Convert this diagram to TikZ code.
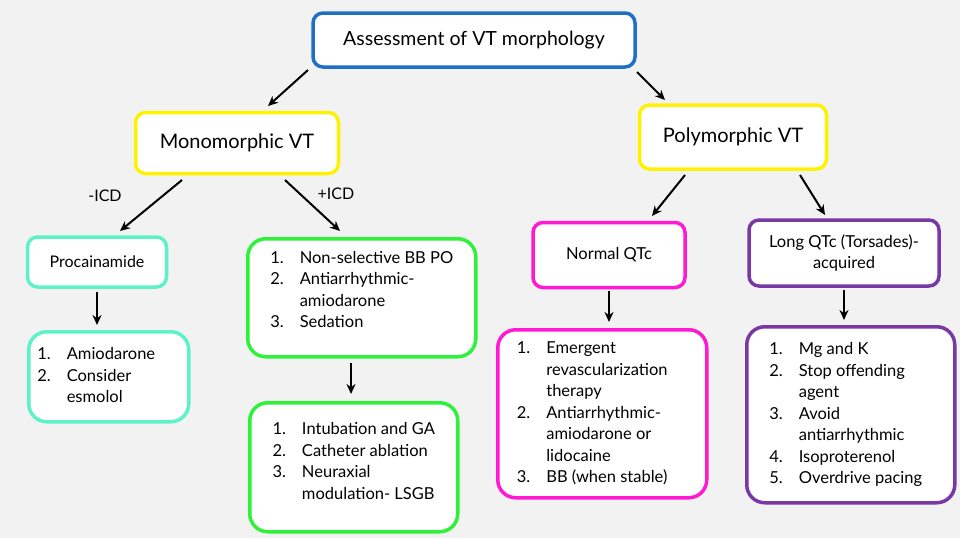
\documentclass[tikz,border=0pt]{standalone}
\usepackage{fontspec}
\setmainfont{Lato}
\usetikzlibrary{positioning,arrows.meta}
\definecolor{topblue}{HTML}{1F6FC5}
\definecolor{headyellow}{HTML}{FFF200}
\definecolor{mint}{HTML}{5EF2C8}
\definecolor{lgreen}{HTML}{2EF23A}
\definecolor{magen}{HTML}{FF19D2}
\definecolor{purp}{HTML}{7A38A6}
\newcommand{\steps}[1]{\begin{tabular}{@{}l@{\hspace{16pt}}l@{}}#1\end{tabular}}
\tikzset{
box/.style = {draw, fill=white, line width=3.5pt, rounded corners=10pt, inner sep=0pt, align=center},
head/.style = {box, draw=headyellow, font=\fontsize{20}{24}\selectfont},
plan/.style = {box, rounded corners=18pt, font=\fontsize{16.5}{21.5}\selectfont},
link/.style = {-{Stealth[length=10pt,width=9pt]}, line width=2pt}
}
\begin{document}
\begin{tikzpicture}[x=1pt,y=-1pt]
    \fill[black!5] (0,0) rectangle (960,538);
    % headings
    \node [box, draw=topblue, minimum width=322pt, minimum height=54pt, font=\fontsize{19.5}{23}\selectfont] (top) at (474,40) {Assessment of VT morphology};
    \node [head, minimum width=203pt, minimum height=61pt] (mono) at (237,143) {Monomorphic VT};
    \node [head, minimum width=187pt, minimum height=64pt] (poly) at (733,137) {Polymorphic VT};
    % second level
    \node [box, draw=mint, minimum width=139pt, minimum height=50pt, font=\fontsize{16}{20}\selectfont] (proc) at (97,262) {Procainamide};
    \node [plan, draw=lgreen, minimum width=228pt, minimum height=118pt, anchor=north west] (nonsel) at (246,237)
        {\steps{1.&Non-selective BB PO\\2.&Antiarrhythmic-\\&amiodarone\\3.&Sedation}\hspace{18pt}\\[12pt]};
    \node [box, draw=magen, minimum width=152pt, minimum height=65pt, font=\fontsize{16.5}{21.5}\selectfont] (normal) at (609,255) {Normal QTc};
    \node [box, draw=purp, minimum width=190pt, minimum height=66pt, font=\fontsize{16.5}{21.5}\selectfont] (long) at (844,253) {Long QTc (Torsades)-\\acquired};
    % third level
    \node [plan, draw=mint, minimum width=160pt, minimum height=90pt, anchor=north west] (amio) at (27,330)
        {\steps{1.&Amiodarone\\2.&Consider\\&esmolol}\hspace{25pt}};
    \node [plan, draw=lgreen, minimum width=208pt, minimum height=129pt, anchor=north west] (intub) at (248,401)
        {\steps{1.&Intubation and GA\\2.&Catheter ablation\\3.&Neuraxial\\&modulation- LSGB}\hspace{12pt}\\[8pt]};
    \node [plan, draw=magen, minimum width=209pt, minimum height=168pt, anchor=north west] (emerg) at (496,328)
        {\steps{1.&Emergent\\&revascularization\\&therapy\\2.&Antiarrhythmic-\\&amiodarone or\\&lidocaine\\3.&BB (when stable)}\hspace{20pt}};
    \node [plan, draw=purp, minimum width=208pt, minimum height=176pt, anchor=north west] (mgk) at (745,325)
        {\steps{1.&Mg and K\\2.&Stop offending\\&agent\\3.&Avoid\\&antiarrhythmic\\4.&Isoproterenol\\5.&Overdrive pacing}\hspace{10pt}};
    % connectors
    \coordinate (t1) at (308,70);
    \coordinate (t2) at (637,72);
    \coordinate (m1) at (182,180);
    \coordinate (m2) at (285,180);
    \coordinate (p1) at (685,175);
    \coordinate (p2) at (800,175);
    \draw [link] (t1) -- (268,106);
    \draw [link] (t2) -- (665,100);
    \draw [link] (m1) -- (120,231);
    \draw [link] (m2) -- (340,231);
    \draw [link] (p1) -- (652,216);
    \draw [link] (p2) -- (825,215);
    \draw [link] ([yshift=-3pt]proc.south) -- ([yshift=5pt]proc.south |- amio.north);
    \draw [link] ([yshift=-4pt]nonsel.south -| 351,0) -- (351,394);
    \draw [link] ([yshift=-2pt]normal.south) -- (normal.south |- 0,322);
    \draw [link] ([yshift=-2pt]long.south) -- (long.south |- 0,320);
    \node [font=\fontsize{16}{20}\selectfont] (icdneg) at (105,196) {-ICD};
    \node [font=\fontsize{16}{20}\selectfont] (icdpos) at (336,194) {+ICD};
\end{tikzpicture}
\end{document}
